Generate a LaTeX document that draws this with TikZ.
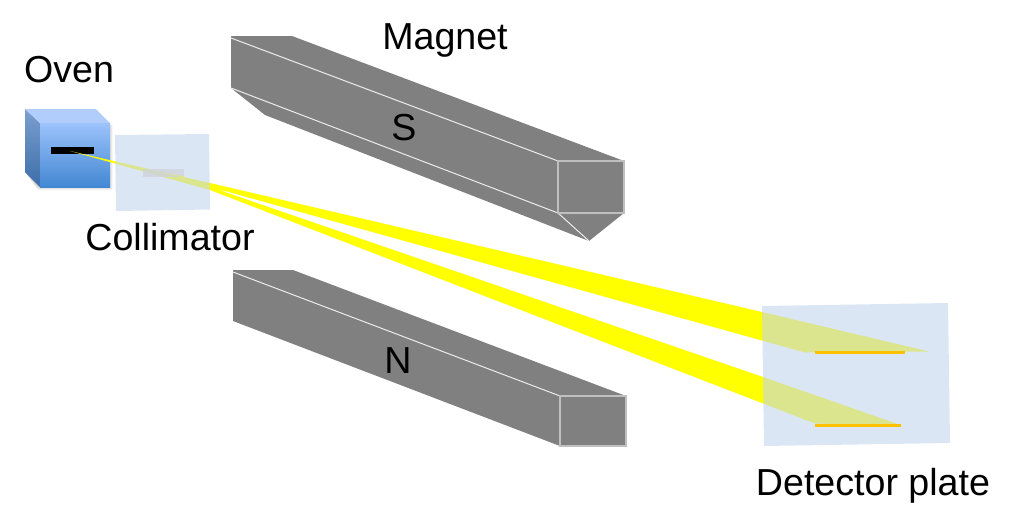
\documentclass[tikz,border=0pt]{standalone}
\usepackage{fontspec}
\setmainfont{Liberation Sans}
\definecolor{magnetgray}{HTML}{808080}
\definecolor{magnetedge}{HTML}{BFBFBF}
\definecolor{plateblue}{RGB}{195,213,237}
\definecolor{ovenfronttop}{HTML}{9CC3FB}
\definecolor{ovenfrontbot}{HTML}{4387D3}
\definecolor{ovensidetop}{HTML}{7C9FD0}
\definecolor{ovensidebot}{HTML}{3C6EA8}
\definecolor{oventop}{HTML}{B0CDFC}
\definecolor{hitcolor}{HTML}{FFC000}
\definecolor{beamyellow}{RGB}{255,255,0}
\definecolor{slitgray}{HTML}{CFD3DC}
\tikzset{
  magnetbody/.style={fill=magnetgray,draw=none},
  magnetline/.style={draw=white!85!gray,line width=1pt},
  magnetface/.style={draw=magnetedge,line width=2.4pt,fill=magnetgray},
  plate/.style={fill=plateblue,fill opacity=0.6,draw=none},
  beam/.style={fill=beamyellow,draw=none},
  hit/.style={draw=hitcolor,line width=2.2pt},
  ovenshade/.style={fill=black,opacity=.05},
  lab/.style={font=\fontsize{37.6}{40}\selectfont,anchor=base,inner sep=0pt,text=black},
}
\begin{document}
\begin{tikzpicture}[x=1pt,y=-1pt]
\useasboundingbox (0,0) rectangle (1016,525);
% upper magnet
\fill[magnetbody] (231,36) -- (292,36) -- (624,161) -- (624,213) -- (589,241) -- (265,115) -- (231,88) -- cycle;
\draw[magnetline] (231,38) -- (558,161);
\draw[magnetline] (231,88) -- (558,213) -- (589,241);
\draw[magnetface] (558,161) rectangle (624,213);
% lower magnet
\fill[magnetbody] (233,270) -- (293,270) -- (626,396) -- (626,446) -- (560,446) -- (233,321) -- cycle;
\draw[magnetline] (233,272) -- (560,396);
\draw[magnetface] (560,396) rectangle (626,446);
% oven shadow
\foreach \d in {0,1,2,3} {
  \fill[ovenshade] (25,172) -- (38,190-\d) -- (112.5-\d,190-\d) -- (112.5-\d,125) -- (100,125) -- (100,170) -- cycle;
}
% oven
\shade[top color=ovensidetop,bottom color=ovensidebot] (25,109) -- (40,123) -- (40,187) -- (25,172) -- cycle;
\fill[oventop] (25,109) -- (96,109) -- (110,123) -- (40,123) -- cycle;
\shade[top color=ovenfronttop,bottom color=ovenfrontbot] (40,123) rectangle (110,187);
\fill[black] (51,147) rectangle (94,153.5);
% beams
\fill[beam] (70,151) -- (210,183) -- (762,312) -- (929,351.5) -- (805,352.5) -- (225,191) -- (218,189.5) -- (225,192) -- (763,377) -- (902,425.5) -- (815,423.5) -- (210,190) -- cycle;
% collimator and detector plates
\fill[plate] (115,135) -- (209,134) -- (210,209.5) -- (116,211) -- cycle;
\fill[slitgray,opacity=.8] (143,169) rectangle (184,176.5);
\fill[beamyellow,opacity=.25] (143,169.5) -- (184,176) -- (184,178) -- (160,172) -- cycle;
\fill[plate] (762,306) -- (948,303) -- (950,443) -- (764,446) -- cycle;
\draw[hit] (815,352.5) -- (905,352.5);
\draw[hit] (815,425.5) -- (901,425.5);
% labels
\node[lab] (oven) at (69,82) {Oven};
\node[lab] (magnet) at (445,49) {Magnet};
\node[lab] (s) at (404,140) {S};
\node[lab] (n) at (398,373) {N};
\node[lab] (collimator) at (170,250) {Collimator};
\node[lab] (detector) at (873,495) {Detector plate};
\end{tikzpicture}
\end{document}
